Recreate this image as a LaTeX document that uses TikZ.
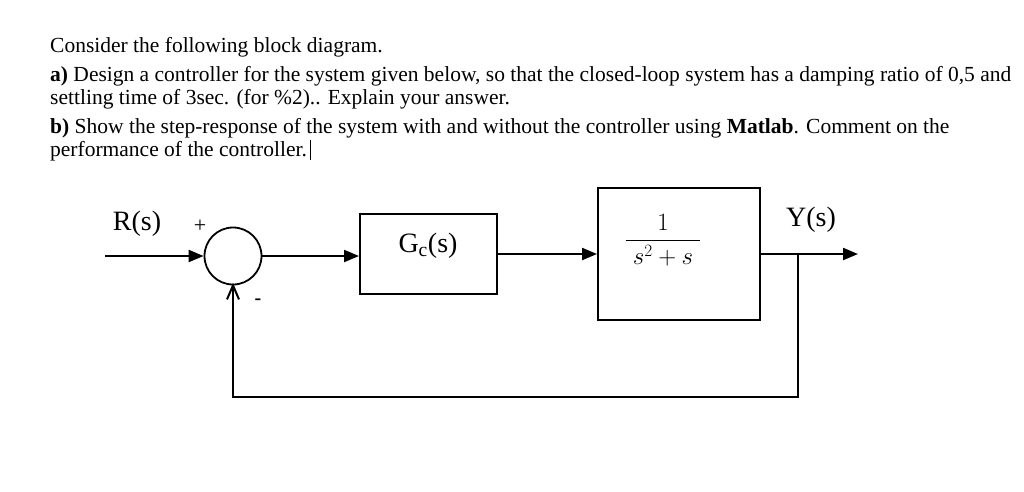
\documentclass[tikz,border=0pt]{standalone}
\usepackage{fontspec}
\setmainfont{Liberation Serif}
\usepackage{amsmath}
\usetikzlibrary{arrows.meta,calc}
\begin{document}
\begin{tikzpicture}[x=1pt,y=-1pt,
  arr/.style={line width=2.2pt, -{Triangle[length=15pt,width=12pt]}},
  txt/.style={anchor=base west,inner sep=0pt,font=\fontsize{21.5}{24}\selectfont},
  blk/.style={draw,line width=2pt,inner sep=0pt}]
\useasboundingbox (0,0) rectangle (1024,491);
\node[txt] (t1) at (50,52) {Consider the following block diagram.};
\node[txt] (t2) at (50,81) {\textbf{a)} Design a controller for the system given below, so that the closed-loop system has a damping ratio of 0,5 and};
\node[txt] (t3) at (50,104) {settling time of 3sec. (for \%2).. Explain your answer.};
\node[txt] (t4) at (50,133) {\textbf{b)} Show the step-response of the system with and without the controller using \textbf{Matlab}. Comment on the};
\node[txt] (t5) at (50,156) {performance of the controller.\,\rule[-4pt]{0.8pt}{20pt}};
\node[draw,line width=1.8pt,circle,minimum size=57pt,inner sep=0pt] (sum) at (233,256) {};
\node[blk,minimum width=137pt,minimum height=80pt] (gc) at (428.5,254) {};
\node[font=\fontsize{28}{30}\selectfont] (gct) at (428,246) {G\textsubscript{c}(s)};
\node[blk,minimum width=162pt,minimum height=132pt] (p) at (679,254) {};
\node[font=\fontsize{26}{30}\selectfont] (pt) at (663,240) {$\dfrac{\;1\;}{\;s^2+s\;}$};
\coordinate (rin) at (105,256);
\coordinate (yout) at (858,254);
\coordinate (br) at (798,254);
\coordinate (bb) at (798,397);
\coordinate (cb) at (233,397);
\draw[arr] (rin) -- (sum.west);
\draw[arr] (sum.east) -- (sum.east -| gc.west);
\draw[arr] (gc.east) -- (p.west);
\draw[arr] (p.east) -- (yout);
\draw[line width=1.3pt] (br) -- (bb) -- (cb) -- (sum.south);
\draw[line width=2pt] ($(sum.south)+(-6,14)$) -- (sum.south) -- ($(sum.south)+(6,14)$);
\node[font=\fontsize{28}{30}\selectfont] (rl) at (137,224) {R(s)};
\node[font=\fontsize{22}{24}\selectfont] (pl) at (200,226) {+};
\node[font=\fontsize{20}{24}\selectfont\bfseries] (ml) at (258,302) {-};
\node[font=\fontsize{28}{30}\selectfont] (yl) at (811,220) {Y(s)};
\end{tikzpicture}
\end{document}
